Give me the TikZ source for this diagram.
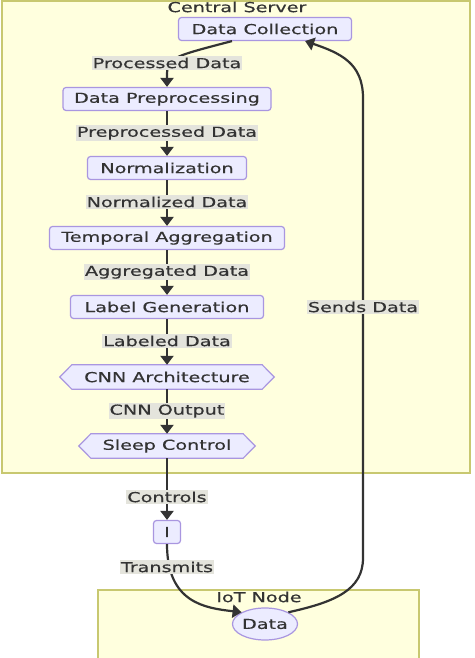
\documentclass[tikz,border=0pt]{standalone}
\usepackage{fontspec}
\setmainfont[FakeStretch=1.4,FakeBold=0.4]{DejaVu Sans}
\usetikzlibrary{arrows.meta,shapes.geometric,calc}
\definecolor{clfill}{HTML}{FFFFDE}
\definecolor{clborder}{HTML}{C8C870}
\definecolor{ndfill}{HTML}{ECECFF}
\definecolor{ndborder}{HTML}{A996E0}
\definecolor{ink}{HTML}{333333}
\definecolor{lblbg}{HTML}{E4E4DC}
\pgfdeclarelayer{bg}
\pgfdeclarelayer{mid}
\pgfsetlayers{bg,mid,main}
\tikzset{
  every node/.style={font=\fontsize{13.7}{16}\selectfont, text=ink},
  cluster/.style={draw=clborder, fill=clfill, line width=1.5pt},
  boxnode/.style={draw=ndborder, fill=ndfill, rounded corners=3pt, line width=1.2pt, minimum height=23pt, inner sep=0pt},
  hexin/.style={minimum height=24pt, inner sep=0pt},
  hexline/.style={draw=ndborder, fill=ndfill, line width=1.2pt},
  ellnode/.style={draw=ndborder, fill=ndfill, ellipse, line width=1.2pt, minimum width=65pt, minimum height=32pt, inner sep=0pt},
  lbl/.style={fill=lblbg, inner sep=1pt, minimum height=14pt},
  title/.style={inner sep=0pt},
  edge/.style={draw=ink, line width=2.2pt, -{Triangle[length=9pt,width=13pt]}},
}
\begin{document}
\begin{tikzpicture}[x=1pt,y=1pt]
\useasboundingbox (0,0) rectangle (474,658);
% clusters
\begin{pgfonlayer}{bg}
\fill[white] (0,0) rectangle (474,658);
\path[cluster] (2,185) rectangle (470,657);
\path[cluster] (98,-2) rectangle (419,68);
\end{pgfonlayer}
\node[title] (cstitle) at (237,651) {Central Server};
\node[title] (iottitle) at (259,61) {IoT Node};
% nodes
\node[boxnode, minimum width=173pt] (dc) at (265,629) {Data Collection};
\node[boxnode, minimum width=208pt] (dp) at (167,559) {Data Preprocessing};
\node[boxnode, minimum width=159pt] (nm) at (167,490) {Normalization};
\node[boxnode, minimum width=235pt] (ta) at (167,420) {Temporal Aggregation};
\node[boxnode, minimum width=193pt] (lg) at (167,351) {Label Generation};
\node[hexin, minimum width=190pt] (cnn) at (167,281) {CNN Architecture};
\node[hexin, minimum width=152pt] (sc) at (167,212) {Sleep Control};
\node[boxnode, minimum width=27pt] (ib) at (167,126) {I};
\node[ellnode] (data) at (265,34) {Data};
\begin{pgfonlayer}{mid}
\path[hexline] (cnn.north west) -- (cnn.north east) -- ([xshift=12pt]cnn.east) -- (cnn.south east) -- (cnn.south west) -- ([xshift=-12pt]cnn.west) -- cycle;
\path[hexline] (sc.north west) -- (sc.north east) -- ([xshift=12pt]sc.east) -- (sc.south east) -- (sc.south west) -- ([xshift=-12pt]sc.west) -- cycle;
\end{pgfonlayer}
% edges
\draw[edge] ([xshift=-33pt]dc.south) .. controls (167,600) and (167,600) .. (dp.north);
\draw[edge] (dp) -- (nm);
\draw[edge] (nm) -- (ta);
\draw[edge] (ta) -- (lg);
\draw[edge] (lg) -- (cnn);
\draw[edge] (cnn) -- (sc);
\draw[edge] (sc) -- (ib);
\draw[edge] (ib.south) .. controls (167,55) and (205,50) .. (data.north west);
\draw[edge] (data.north east) .. controls (335,56) and (363,68) .. (363,100) -- (363,560) .. controls (363,595) and (340,605) .. ([xshift=-47pt]dc.south east);
% labels
\node[lbl] (l1) at (167,595) {Processed Data};
\node[lbl] (l2) at (167,525) {Preprocessed Data};
\node[lbl] (l3) at (167,456) {Normalized Data};
\node[lbl] (l4) at (167,386) {Aggregated Data};
\node[lbl] (l5) at (167,317) {Labeled Data};
\node[lbl] (l6) at (167,247) {CNN Output};
\node[lbl] (l7) at (167,161) {Controls};
\node[lbl] (l8) at (167,91) {Transmits};
\node[lbl] (l9) at (363,351) {Sends Data};
\end{tikzpicture}
\end{document}
